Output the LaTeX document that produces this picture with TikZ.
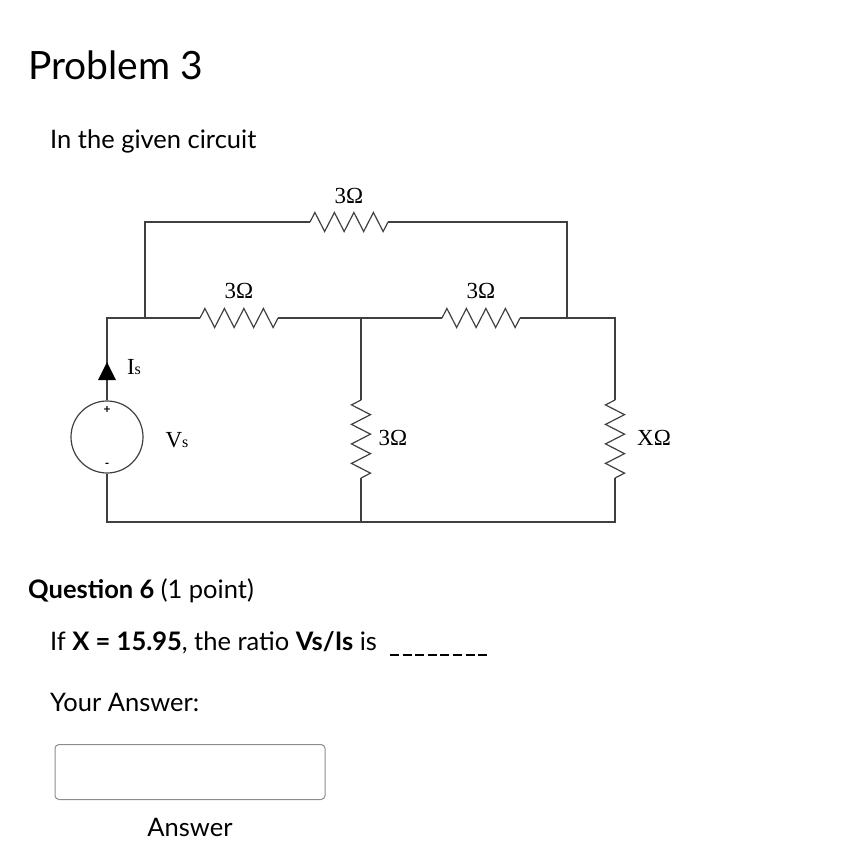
\documentclass[tikz,border=0pt]{standalone}
\usepackage{fontspec}
\setmainfont{Lato}
\newfontfamily\circfont{Liberation Serif}
\begin{document}
\begin{tikzpicture}[x=1pt,y=-1pt,
  wire/.style={draw=black!75,line width=1.2pt},
  clab/.style={font=\circfont\fontsize{23}{23}\selectfont,inner sep=1pt},
  txt/.style={anchor=base west,inner sep=0pt}]
\useasboundingbox (0,0) rectangle (860,859);
% coordinates
\coordinate (TL) at (145,222); \coordinate (TR) at (567,222);
\coordinate (T1) at (310,222); \coordinate (T2) at (388,222);
\coordinate (ML) at (107,318); \coordinate (MA) at (145,318);
\coordinate (L1) at (200,318); \coordinate (L2) at (278,318);
\coordinate (MM) at (361,318);
\coordinate (R1) at (442,318); \coordinate (R2) at (520,318);
\coordinate (MB) at (567,318); \coordinate (MR) at (615,318);
\coordinate (V1) at (361,400); \coordinate (V2) at (361,478);
\coordinate (X1) at (615,400); \coordinate (X2) at (615,478);
\coordinate (BL) at (107,522); \coordinate (BM) at (361,522); \coordinate (BR) at (615,522);
\node[circle,draw=black!75,line width=1.2pt,minimum size=72pt,inner sep=0pt] (src) at (107,437) {};
% wires
\draw[wire] (T1) -- (TL) -- (MA);
\draw[wire] (T2) -- (TR) -- (MB);
\draw[wire] (src.north) -- (ML) -- (L1);
\draw[wire] (L2) -- (R1);
\draw[wire] (R2) -- (MR) -- (X1);
\draw[wire] (MM) -- (V1);
\draw[wire] (V2) -- (BM);
\draw[wire] (X2) -- (BR) -- (BL) -- (src.south);
% horizontal resistors
\foreach \a in {T1,L1,R1}{
  \draw[wire,line join=miter] (\a) -- ++(4.9,-9.5)
    \foreach \i in {1,...,7}{ -- ++(9.75,{ifthenelse(mod(\i,2)==1,19,-19)}) } -- ++(4.9,-9.5);
}
\foreach \a in {V1,X1}{
  \draw[wire,line join=miter] (\a) -- ++(-9.5,4.9)
    \foreach \i in {1,...,7}{ -- ++({ifthenelse(mod(\i,2)==1,19,-19)},9.75) } -- ++(-9.5,4.9);
}
% arrow
\fill[black] (107,362) -- (98,380) -- (116,380) -- cycle;
\node[font=\bfseries\fontsize{12}{12}\selectfont] (plus) at (107,410) {+};
\node[font=\bfseries\fontsize{12}{12}\selectfont] (minus) at (107,465) {-};
% labels
\node[clab] (lt) at (349,196) {3Ω};
\node[clab] (ll) at (239,291) {3Ω};
\node[clab] (lr) at (481,291) {3Ω};
\node[clab] (lv) at (393,438) {3Ω};
\node[clab] (lx) at (654,438) {XΩ};
\node[clab] (lis) at (134,367) {I\fontsize{16}{16}\selectfont s};
\node[clab] (lvs) at (177,440) {V\fontsize{16}{16}\selectfont s};
% text
\node[txt,font=\fontsize{39}{39}\selectfont] (title) at (28,80) {Problem 3};
\node[txt,font=\fontsize{25.5}{25}\selectfont] (intro) at (50,148) {In the given circuit};
\node[txt,font=\fontsize{25.5}{25}\selectfont] (q) at (28,598) {\textbf{Question 6} (1 point)};
\node[txt,font=\fontsize{25.5}{25}\selectfont] (ifx) at (50,650) {If \textbf{X = 15.95}, the ratio \textbf{Vs/Is} is};
\draw[black,line width=1.5pt,dash pattern=on 9pt off 3.6pt] (390,655) coordinate (d1) -- (487,655) coordinate (d2);
\node[txt,font=\fontsize{25.5}{25}\selectfont] (ya) at (50,711) {Your Answer:};
\node[draw=black!45,rounded corners=4pt,line width=1pt,minimum width=270pt,minimum height=55pt] (box) at (190,772) {};
\node[font=\fontsize{25.5}{25}\selectfont,anchor=base] (ans) at (190,836) {Answer};
\end{tikzpicture}
\end{document}
